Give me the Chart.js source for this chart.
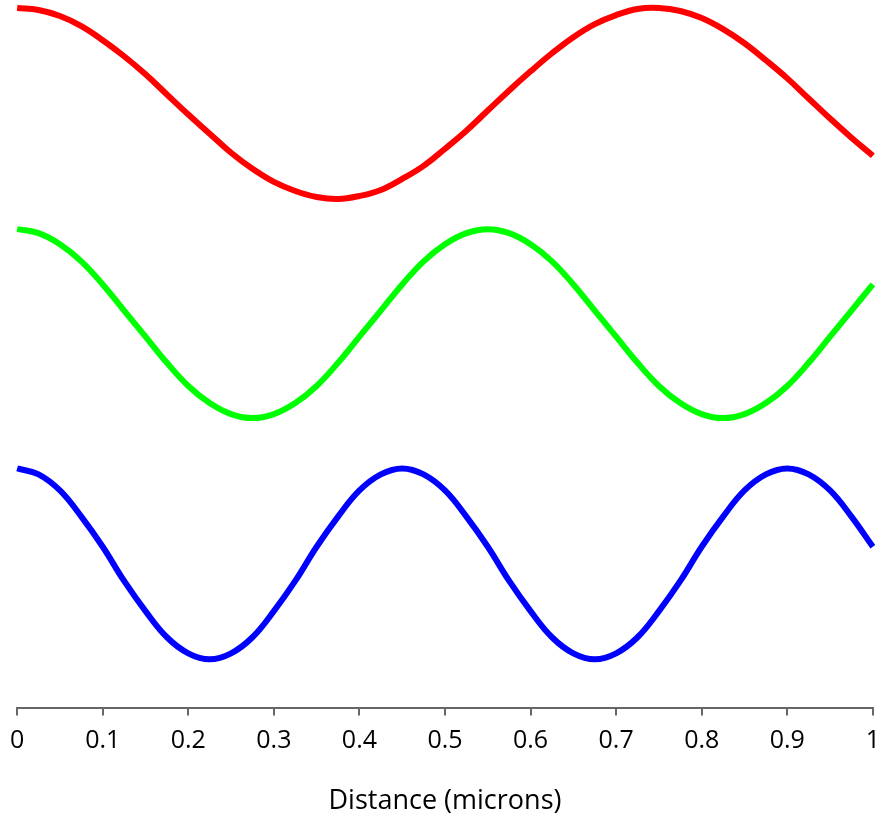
<!DOCTYPE html>
<html><head><meta charset="utf-8">
<script src="https://cdn.jsdelivr.net/npm/chart.js@4"></script>
<style>html,body{margin:0;padding:0;background:#fff}#w{width:890px;height:828px}</style>
</head><body><div id="w"><canvas id="c"></canvas></div>
<script>
const xValues = Array.from({length:41},(_, i)=>+(i*0.025).toFixed(3));
const redValues = [696,694,688,678,664,648,630,610,590,571,552,536,523,514,508,506,509,515,526,539,556,574,594,614,633,651,667,680,689,695,696,693,686,675,661,644,626,606,586,567,549];
const greenValues = [476,472,461,444,421,395,369,343,320,303,292,288,292,303,320,343,369,395,421,444,461,472,476,472,461,444,421,395,369,343,320,303,292,288,292,303,320,343,369,395,421];
const blueValues = [238,232,216,190,160,126,96,70,54,48,54,70,96,126,160,190,216,232,238,232,216,190,160,126,96,70,54,48,54,70,96,126,160,190,216,232,238,232,216,190,160];
const tickLabels = ['0','0.1','0.2','0.3','0.4','0.5','0.6','0.7','0.8','0.9','1'];
const mk=(d,c)=>({data:xValues.map((x,i)=>({x,y:d[i]})),borderColor:c,borderWidth:6,pointRadius:0,tension:0.4,fill:false,clip:false});
new Chart(document.getElementById('c'),{type:'line',
data:{datasets:[mk(redValues,'#ff0000'),mk(greenValues,'#00ff00'),mk(blueValues,'#0000ff')]},
options:{responsive:true,maintainAspectRatio:false,animation:false,
layout:{padding:{left:2,right:5,top:4,bottom:6}},
plugins:{legend:{display:false},tooltip:{enabled:false}},
scales:{
x:{type:'linear',min:0,max:1,border:{color:'#666',width:2},
grid:{display:true,drawOnChartArea:false,drawTicks:true,tickLength:8,color:'#666',lineWidth:2},
ticks:{stepSize:0.1,color:'#000',font:{family:'Open Sans',size:25},padding:10,maxRotation:0,
callback:(v,i)=>tickLabels[i]},
title:{display:true,text:'Distance (microns)',color:'#000',font:{family:'Open Sans',size:27},padding:{top:20}}},
y:{display:false,min:0,max:700}}}});
</script></body></html>
